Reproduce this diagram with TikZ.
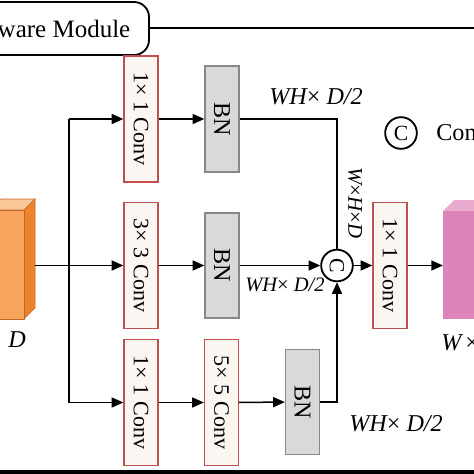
\documentclass[tikz,border=0pt]{standalone}
\usepackage{fontspec}
\setmainfont{Liberation Serif}
\usetikzlibrary{arrows.meta}

\definecolor{convred}{RGB}{190,80,77}
\definecolor{convfill}{RGB}{252,246,242}
\definecolor{bngray}{RGB}{135,135,135}
\definecolor{bnfill}{RGB}{217,217,217}
\definecolor{orfront}{RGB}{246,164,94}
\definecolor{orside}{RGB}{238,131,42}
\definecolor{ortop}{RGB}{249,198,152}
\definecolor{oredge}{RGB}{196,104,40}
\definecolor{pkfront}{RGB}{222,132,186}
\definecolor{pktop}{RGB}{235,170,208}

\tikzset{
  convbox/.style = {draw = convred, fill = convfill, line width = 0.8pt, inner sep = 0pt,
                    minimum width = 20.4pt, minimum height = 75.6pt, font = \fontsize{13.2}{13.2}\selectfont},
  bnbox/.style = {draw = bngray, fill = bnfill, line width = 0.8pt, inner sep = 0pt,
                  minimum width = 20.4pt, minimum height = 63pt, font = \fontsize{14.5}{14.5}\selectfont},
  flow/.style = {-{Triangle[length = 7pt, width = 6pt]}, line width = 0.9pt},
  wire/.style = {line width = 0.9pt},
  catnode/.style = {draw, circle, line width = 1.1pt, minimum size = 19pt, inner sep = 0pt,
                    font = \fontsize{13}{13}\selectfont},
  dimlabel/.style = {font = \fontsize{14.5}{14.5}\selectfont, inner sep = 0pt}
}

\begin{document}
\begin{tikzpicture}[x = 0.6pt, y = -0.6pt]
	 \useasboundingbox (0, 0) rectangle (474, 474);

	 % module header and frame lines
	 \node[draw, line width = 1.1pt, rounded corners = 9pt, minimum width = 102pt, minimum height = 31.8pt,
	       font = \fontsize{15}{15}\selectfont] (mod) at (64, 28.5) {ware Module};
	 \coordinate (topend) at (480, 28);
	 \draw[wire] (mod.east |- topend) -- (topend);
	 \coordinate (botstart) at (-5, 472);
	 \coordinate (botend) at (480, 472);
	 \draw[line width = 2pt] (botstart) -- (botend);

	 % input cube
	 \fill[ortop, draw = oredge, line width = 0.4pt] (-10, 210) -- (24, 210) -- (35, 199) -- (1, 199) -- cycle;
	 \fill[orside, draw = oredge, line width = 0.4pt] (24, 210) -- (35, 199) -- (35, 308) -- (24, 319) -- cycle;
	 \fill[orfront, draw = oredge, line width = 0.4pt] (-10, 210) -- (24, 210) -- (24, 319) -- (-10, 319) -- cycle;
	 \node[dimlabel] (dlab) at (17, 340) {\itshape D};

	 % output cube
	 \fill[pktop] (443, 211) -- (454, 200) -- (480, 200) -- (480, 211) -- cycle;
	 \fill[pkfront] (443, 211) rectangle (480, 319);
	 \node[dimlabel, anchor = west] (wlab) at (441, 343) {\itshape W\,\upshape×\,\itshape H\,\upshape×\,\itshape D};

	 % branches
	 \node[convbox] (conva) at (141, 119) {\rotatebox{-90}{1× 1 Conv}};
	 \node[bnbox, minimum height = 63.6pt] (bna) at (222, 119) {\rotatebox{-90}{BN}};

	 \node[convbox] (convb) at (141, 265.5) {\rotatebox{-90}{3× 3 Conv}};
	 \node[bnbox] (bnb) at (222, 265.5) {\rotatebox{-90}{BN}};

	 \node[convbox] (convc) at (141, 402.5) {\rotatebox{-90}{1× 1 Conv}};
	 \node[convbox] (convd) at (221.5, 402.5) {\rotatebox{-90}{5× 5 Conv}};
	 \node[bnbox] (bnc) at (302.5, 402) {\rotatebox{-90}{BN}};

	 \node[catnode] (cat) at (337, 265.5) {\rotatebox{-90}{C}};
	 \node[convbox] (conve) at (390, 265.5) {\rotatebox{-90}{1× 1 Conv}};

	 \coordinate (inp) at (35, 265.5);
	 \coordinate (split) at (69, 265.5);
	 \coordinate (outp) at (443, 265.5);

	 \draw[wire] (inp) -- (split);
	 \draw[wire] (conva.west -| split) -- (convc.west -| split);
	 \draw[flow] (conva.west -| split) -- (conva.west);
	 \draw[flow] (split) -- (convb.west);
	 \draw[flow] (convc.west -| split) -- (convc.west);

	 \draw[flow] (conva) -- (bna);
	 \draw[flow] (convb) -- (bnb);
	 \draw[flow] (convc) -- (convd);
	 \draw[flow] (convd) -- (bnc);

	 \draw[wire] (bna.east) -| (cat.north);
	 \draw[flow] (bnb.east) -- (cat.west);
	 \draw[flow] (bnc.east) -| (cat.south);
	 \draw[flow] (cat.east) -- (conve.west);
	 \draw[flow] (conve.east) -- (outp);

	 % size labels
	 \node[dimlabel] (lab1) at (316, 97) {\itshape WH\upshape×\ \itshape D/2};
	 \node[dimlabel, font = \fontsize{12.3}{12.3}\selectfont] (lab2) at (285, 285) {\itshape WH\upshape×\ \itshape D/2};
	 \node[dimlabel] (lab3) at (396, 424) {\itshape WH\upshape×\ \itshape D/2};
	 \node[dimlabel, font = \fontsize{12.5}{12.5}\selectfont, rotate = -90] (lab4) at (355, 203) {\itshape W\upshape×\itshape H\upshape×\itshape D};

	 % legend
	 \node[catnode] (legc) at (401, 133) {C};
	 \node[dimlabel, anchor = west] (legtxt) at (436, 133) {Concatenation};
\end{tikzpicture}
\end{document}
